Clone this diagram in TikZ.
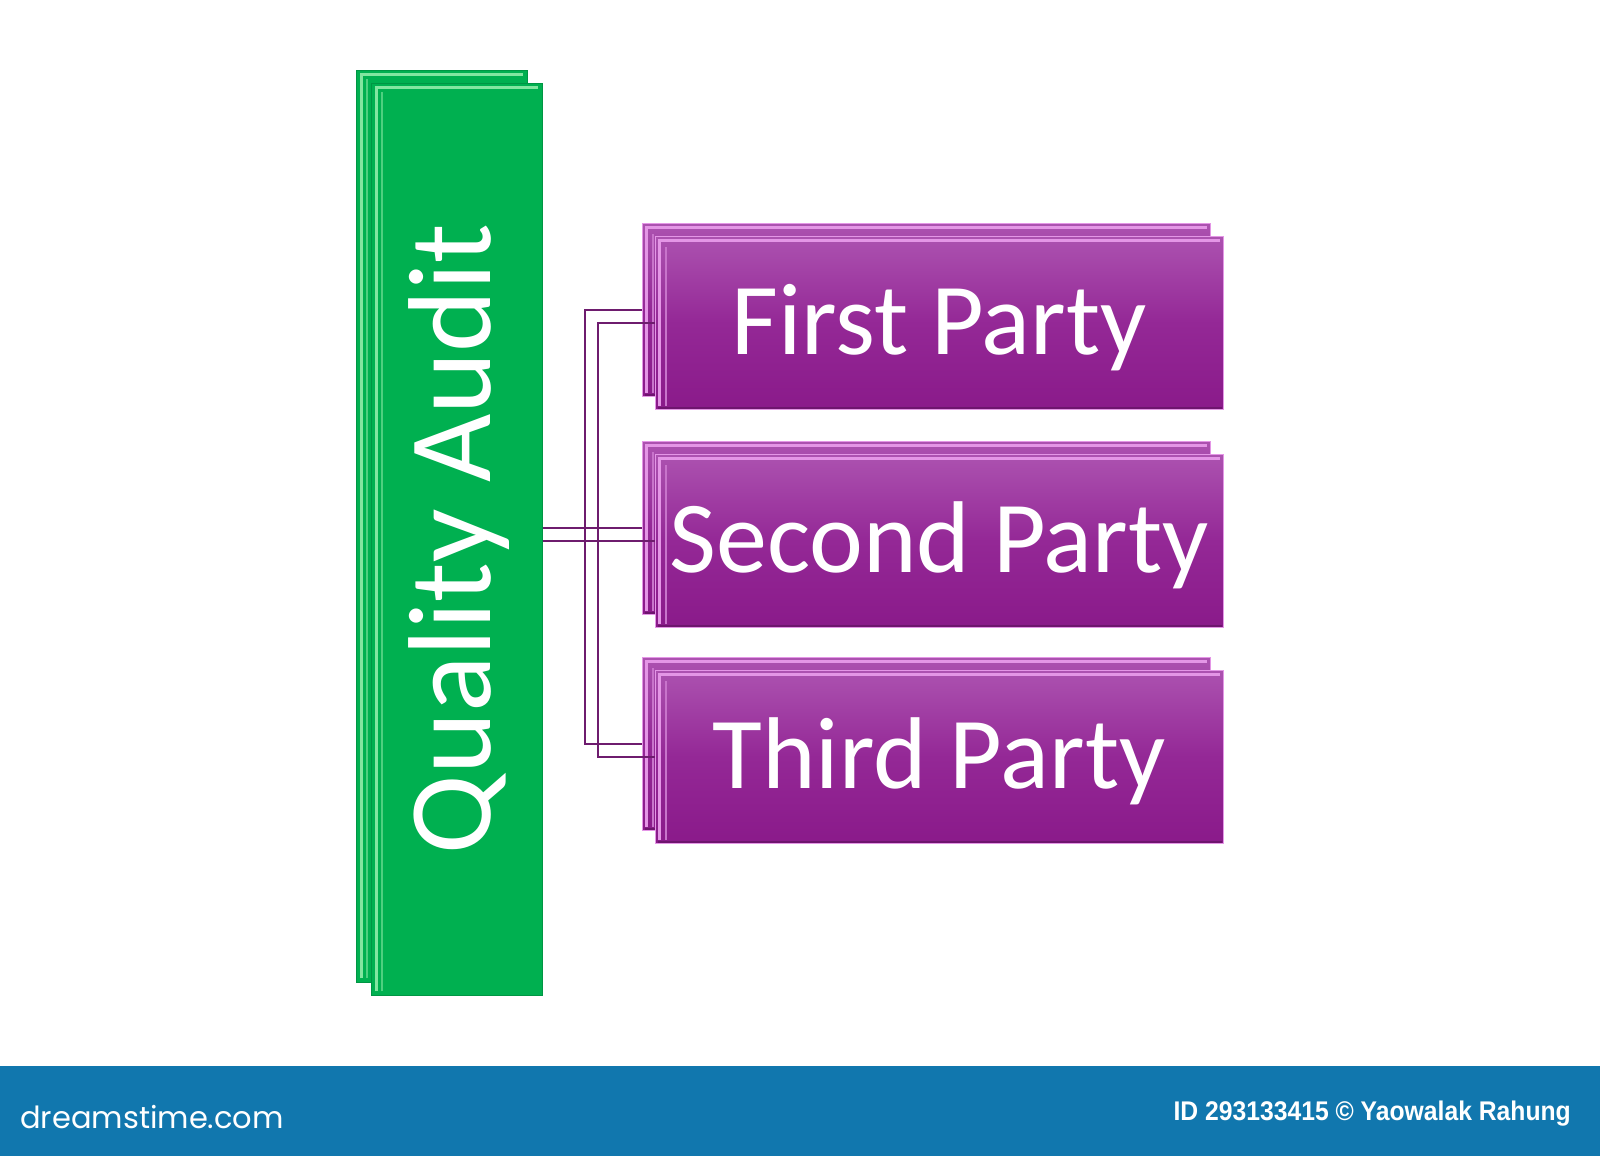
\documentclass[tikz,border=0pt]{standalone}
\usepackage{fontspec}
\setmainfont{Carlito}
\newfontfamily\barfont{Liberation Sans}
\newfontfamily\logofont{Poppins}
\definecolor{qgreen}{RGB}{0,176,80}
\definecolor{qgreenlt}{RGB}{130,230,160}
\definecolor{qgreendk}{RGB}{0,150,68}
\definecolor{ppl}{RGB}{138,26,138}
\definecolor{pplmid}{RGB}{148,40,150}
\definecolor{pplt}{RGB}{172,82,176}
\definecolor{pphl}{RGB}{228,150,230}
\definecolor{connc}{RGB}{110,28,110}
\definecolor{barblue}{RGB}{17,119,174}
\tikzset{
  gbox/.style={rectangle, inner sep=0pt, anchor=north west,
    minimum width=171pt, minimum height=912pt, fill=qgreen,
    draw=qgreendk, line width=0.8pt,
    path picture={
      \draw[qgreenlt, line width=2.5pt]
        ([xshift=5pt,yshift=4pt]path picture bounding box.south west)
        |- ([xshift=-4pt,yshift=-4pt]path picture bounding box.north east);
      \draw[qgreenlt!60!qgreen, line width=2pt]
        ([xshift=11pt,yshift=4pt]path picture bounding box.south west)
        -- ([xshift=11pt,yshift=-9pt]path picture bounding box.north west);
    }},
  pbox/.style={rectangle, inner sep=0pt, anchor=north west,
    minimum width=568pt, minimum height=173pt,
    top color=pplt, bottom color=ppl, middle color=pplmid,
    draw=pphl, line width=1pt,
    path picture={
      \draw[pphl, line width=3pt]
        ([xshift=4pt,yshift=4pt]path picture bounding box.south west)
        |- ([xshift=-4pt,yshift=-4pt]path picture bounding box.north east);
      \draw[pphl!50!pplt, line width=2pt]
        ([xshift=10pt,yshift=4pt]path picture bounding box.south west)
        -- ([xshift=10pt,yshift=-10pt]path picture bounding box.north west);
      \draw[ppl!80!black, line width=2pt]
        ([xshift=2pt,yshift=1.5pt]path picture bounding box.south west)
        -- ([xshift=-2pt,yshift=1.5pt]path picture bounding box.south east);
    }},
  plabel/.style={anchor=base, text=white, inner sep=0pt,
    font=\fontsize{102}{110}\selectfont},
  connector/.style={draw=connc, line width=2.4pt}
}
\begin{document}
\begin{tikzpicture}[x=1pt, y=-1pt]
  \useasboundingbox (0,0) rectangle (1600,1156);
  \fill[white] (0,0) rectangle (1600,1156);

  % green column
  \node[gbox] (qab) at (356,70) {};
  \node[gbox] (qa) at (371,83) {};
  \node[rotate=90, anchor=base, text=white, inner sep=0pt,
        font=\fontsize{118}{120}\selectfont] (qat) at (490,539) {Quality Audit};

  % purple boxes
  \node[pbox] (fpb) at (642,223) {};
  \node[pbox] (fpf) at (655,236) {};
  \node[pbox] (spb) at (642,441) {};
  \node[pbox] (spf) at (655,454) {};
  \node[pbox] (tpb) at (642,657) {};
  \node[pbox] (tpf) at (655,670) {};

  \node[plabel] (fpt) at (939,354.5) {First Party};
  \node[plabel] (spt) at (939,572.5) {Second Party};
  \node[plabel] (tpt) at (939,788.5) {Third Party};

  % connectors
  \coordinate (v1) at (585,0);
  \coordinate (v2) at (598,0);
  \draw[connector] (fpb.west) -- (fpb.west -| v1) |- (tpb.west);
  \draw[connector] (qa.east |- spb.west) -- (spb.west);
  \draw[connector] (fpf.west) -- (fpf.west -| v2) |- (tpf.west);
  \draw[connector] (qa.east |- spf.west) -- (spf.west);

  % bottom bar
  \node[rectangle, fill=barblue, inner sep=0pt, anchor=north west,
        minimum width=1600pt, minimum height=90pt] (bar) at (0,1066) {};
  \node[anchor=base west, text=white, inner sep=0pt,
        font=\logofont\fontsize{30.5}{34}\selectfont] (logo) at (20,1128) {dreamstime.com};
  \node[anchor=base east, text=white, inner sep=0pt,
        font=\barfont\bfseries\fontsize{27}{30}\selectfont] (credit) at (1571,1120)
        {\scalebox{0.915}[1]{ID 293133415 © Yaowalak Rahung}};
\end{tikzpicture}
\end{document}
